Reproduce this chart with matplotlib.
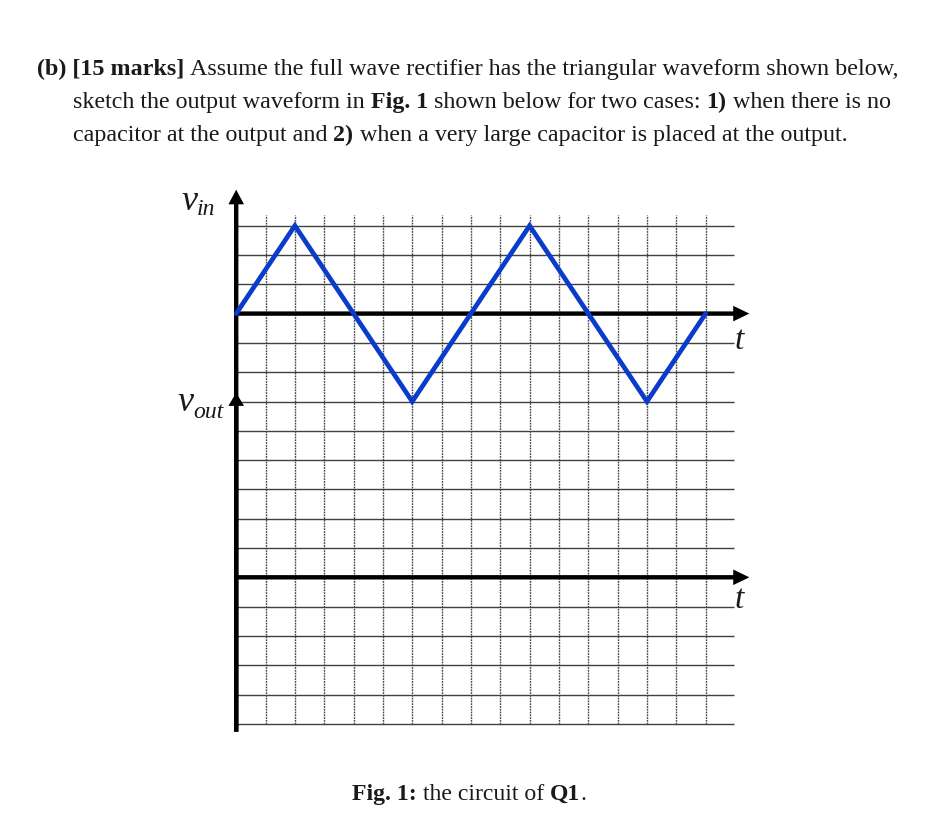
import matplotlib
matplotlib.use("Agg")
import matplotlib.pyplot as plt

# waveform, in grid squares
vin_t = [0, 2, 6, 10, 14, 16]
vin_v = [0, 3, -3, 3, -3, 0]

grid_t = list(range(1, 17))
grid_v = [3, 2, 1, -1, -2, -3, -4, -5, -6, -7, -8, -10, -11, -12, -13, -14]
vout_zero = -9

heading = [
    [("(b) [15 marks] ", "bold"), ("Assume the full wave rectifier has the triangular waveform shown below,", "normal")],
    [("sketch the output waveform in ", "normal"), ("Fig. 1", "bold"), (" shown below for two cases: ", "normal"),
     ("1)", "bold"), (" when there is no", "normal")],
    [("capacitor at the output and ", "normal"), ("2)", "bold"), (" when a very large capacitor is placed at the output.", "normal")],
]
caption = [("Fig. 1:", "bold"), (" the circuit of ", "normal"), ("Q1", "bold"), (".", "normal")]

W, H = 936, 828
x0, y0 = 236.2, 314.6
sx, sy = 29.34, 29.3

plt.rcParams["font.family"] = "Liberation Serif"

fig = plt.figure(figsize=(W / 100, H / 100), dpi=100)
ax = fig.add_axes([0, 0, 1, 1])
ax.set_xlim(-x0 / sx, (W - x0) / sx)
ax.set_ylim(-(H - y0) / sy, y0 / sy)
ax.axis("off")


def write_runs(runs, x, y, size):
    # text pieces one after the other, position in pixels from top left
    r = fig.canvas.get_renderer()
    for s, weight in runs:
        t = fig.text(x / W, 1 - y / H, s, fontsize=size, fontweight=weight, ha="left", va="baseline", color="#1a1a1a")
        x = x + t.get_window_extent(r).width


def label(s, x, y, size):
    fig.text(x / W, 1 - y / H, s, fontsize=size, style="italic", ha="left", va="baseline", color="#1a1a1a")


# grid
ax.vlines(grid_t, -14, 3.38, color="#4a4a4a", lw=1.0, linestyle=(0, (1.3, 0.7)), zorder=1)
ax.hlines(grid_v, 0, 16.95, color="#404040", lw=1.0, zorder=1)

# axes with arrow heads
arrow = dict(width=0.15, head_width=0.53, length_includes_head=True, color="black", lw=0, zorder=3)
ax.arrow(0, -14.27, 0, 18.5, head_length=0.5, **arrow)
ax.arrow(0, -14.27, 0, 11.57, head_length=0.45, **arrow)
ax.arrow(0, 0, 17.49, 0, head_length=0.55, **arrow)
ax.arrow(0, vout_zero, 17.49, 0, head_length=0.55, **arrow)

ax.plot(vin_t, vin_v, color="#0a3ccc", lw=3.4, solid_capstyle="round", solid_joinstyle="miter", zorder=4)

label("v", 181, 210, 26)
label("in", 197, 215, 17)
label("v", 178, 411, 26)
label("out", 193, 418, 17)
label("t", 735, 349, 24)
label("t", 735, 608, 24)

write_runs(heading[0], 37, 75, 17.38)
write_runs(heading[1], 73, 108, 17.28)
write_runs(heading[2], 73, 141, 17.28)
write_runs(caption, 352, 800, 17.1)

fig.savefig("out.png", dpi=100)
